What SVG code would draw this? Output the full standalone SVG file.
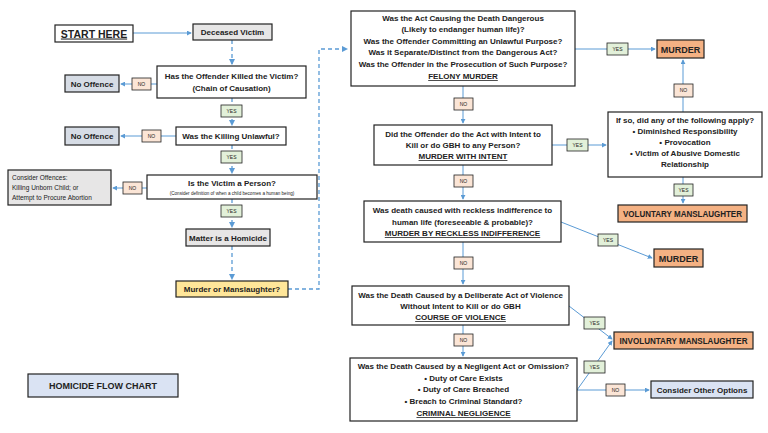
<svg xmlns="http://www.w3.org/2000/svg" width="768" height="433" viewBox="0 0 768 433">
<defs>
<marker id="ar" viewBox="0 0 6 6" refX="5" refY="3" markerWidth="5" markerHeight="5" orient="auto"><path d="M0,0L6,3L0,6z" fill="#5b9bd5"/></marker>
<style>
text{font-family:"Liberation Sans",Arial,sans-serif;font-weight:bold;fill:#222;text-anchor:middle;font-size:8px}
.b{fill:#fff;stroke:#222;stroke-width:1.2}
.g{fill:#e7e6e6;stroke:#222;stroke-width:1.2}
.o{fill:#f4b183;stroke:#222;stroke-width:1.2}
.y{fill:#ffe699;stroke:#222;stroke-width:1.2}
.lb{fill:#dae3f3;stroke:#222;stroke-width:1.2}
.nb{fill:#d6dce5;stroke:#222;stroke-width:1.2}
.yes{fill:#e2f0d9;stroke:#222;stroke-width:0.8}
.no{fill:#fbe5d6;stroke:#222;stroke-width:0.8}
.t{font-size:5px;font-weight:normal}
.s{font-size:4.6px;font-weight:normal}
.l{font-size:6.5px;font-weight:normal;text-anchor:start}
.big{font-size:9px}
.c{stroke:#5b9bd5;stroke-width:1;fill:none}
.d{stroke:#5b9bd5;stroke-width:1.3;fill:none;stroke-dasharray:4,3}
.u{text-decoration:underline}
</style>
</defs>
<g id="connectors">
<line class="c" x1="133" y1="33" x2="191" y2="33" marker-end="url(#ar)"/>
<line class="d" x1="232" y1="40" x2="232" y2="64" marker-end="url(#ar)"/>
<line class="c" x1="157" y1="84" x2="121" y2="84" marker-end="url(#ar)"/>
<line class="d" x1="232" y1="98" x2="232" y2="125" marker-end="url(#ar)"/>
<line class="c" x1="176" y1="136" x2="121" y2="136" marker-end="url(#ar)"/>
<line class="d" x1="232" y1="145" x2="232" y2="173" marker-end="url(#ar)"/>
<line class="c" x1="147" y1="188" x2="113" y2="188" marker-end="url(#ar)"/>
<line class="d" x1="232" y1="199" x2="232" y2="227" marker-end="url(#ar)"/>
<line class="d" x1="232" y1="246" x2="232" y2="279" marker-end="url(#ar)"/>
<polyline class="d" points="288,289 319,289 319,49 347,49" marker-end="url(#ar)"/>
<line class="c" x1="575" y1="49" x2="655" y2="49" marker-end="url(#ar)"/>
<line class="c" x1="463" y1="86" x2="463" y2="123" marker-end="url(#ar)"/>
<line class="c" x1="552" y1="145" x2="606" y2="145" marker-end="url(#ar)"/>
<line class="c" x1="683" y1="112" x2="683" y2="60" marker-end="url(#ar)"/>
<line class="c" x1="683" y1="177" x2="683" y2="203" marker-end="url(#ar)"/>
<line class="c" x1="463" y1="165" x2="463" y2="199" marker-end="url(#ar)"/>
<line class="c" x1="561" y1="222" x2="652" y2="258" marker-end="url(#ar)"/>
<line class="c" x1="463" y1="242" x2="463" y2="284" marker-end="url(#ar)"/>
<line class="c" x1="569" y1="306" x2="612" y2="339" marker-end="url(#ar)"/>
<line class="c" x1="463" y1="325" x2="463" y2="356" marker-end="url(#ar)"/>
<line class="c" x1="577" y1="390" x2="612" y2="341" marker-end="url(#ar)"/>
<line class="c" x1="577" y1="390" x2="649" y2="390" marker-end="url(#ar)"/>
</g>
<g id="tags">
<rect class="no" x="132" y="78" width="19" height="12"/><text class="t" x="141.5" y="86">NO</text>
<rect class="yes" x="221" y="105" width="21" height="12"/><text class="t" x="231.5" y="113">YES</text>
<rect class="no" x="142" y="130" width="19" height="12"/><text class="t" x="151.5" y="138">NO</text>
<rect class="yes" x="221" y="151" width="21" height="12"/><text class="t" x="231.5" y="159">YES</text>
<rect class="no" x="123" y="182" width="19" height="12"/><text class="t" x="132.5" y="190">NO</text>
<rect class="yes" x="221" y="205" width="21" height="12"/><text class="t" x="231.5" y="213">YES</text>
<rect class="yes" x="607" y="43" width="21" height="12"/><text class="t" x="617.5" y="51">YES</text>
<rect class="no" x="454" y="98" width="19" height="12"/><text class="t" x="463.5" y="106">NO</text>
<rect class="yes" x="567" y="139" width="21" height="12"/><text class="t" x="577.5" y="147">YES</text>
<rect class="no" x="674" y="84" width="19" height="13"/><text class="t" x="683.5" y="92">NO</text>
<rect class="yes" x="674" y="184" width="19" height="12"/><text class="t" x="683.5" y="192">YES</text>
<rect class="no" x="454" y="175" width="19" height="12"/><text class="t" x="463.5" y="183">NO</text>
<rect class="yes" x="598" y="234" width="20" height="12"/><text class="t" x="608" y="242">YES</text>
<rect class="no" x="454" y="257" width="19" height="12"/><text class="t" x="463.5" y="265">NO</text>
<rect class="yes" x="584" y="317" width="21" height="12"/><text class="t" x="594.5" y="325">YES</text>
<rect class="no" x="454" y="334" width="19" height="12"/><text class="t" x="463.5" y="342">NO</text>
<rect class="yes" x="584" y="361" width="21" height="12"/><text class="t" x="594.5" y="369">YES</text>
<rect class="no" x="606" y="384" width="19" height="12"/><text class="t" x="615.5" y="392">NO</text>
</g>
<g id="start"><rect class="b" x="55" y="25" width="78" height="17" stroke-width="1.5"/><text class="u" x="94" y="37.5" style="font-size:10.5px">START HERE</text></g>
<g id="deceased"><rect class="g" x="193" y="24" width="79" height="16"/><text x="232.5" y="35">Deceased Victim</text></g>
<g id="q1"><rect class="b" x="157" y="66" width="149" height="32"/><text x="231.5" y="79">Has the Offender Killed the Victim?</text><text x="231.5" y="91">(Chain of Causation)</text></g>
<g id="noff1"><rect class="nb" x="65" y="75" width="54" height="17"/><text x="92" y="86.5">No Offence</text></g>
<g id="q2"><rect class="b" x="176" y="127" width="110" height="18"/><text x="231" y="139">Was the Killing Unlawful?</text></g>
<g id="noff2"><rect class="nb" x="65" y="127" width="54" height="18"/><text x="92" y="139">No Offence</text></g>
<g id="q3"><rect class="b" x="147" y="175" width="170" height="24"/><text x="232" y="186">Is the Victim a Person?</text><text class="s" x="232" y="195">(Consider definition of when a child becomes a human being)</text></g>
<g id="consider"><rect class="g" x="8" y="170" width="103" height="35"/><text class="l" x="12" y="180">Consider Offences:</text><text class="l" x="12" y="190">Killing Unborn Child; or</text><text class="l" x="12" y="200">Attempt to Procure Abortion</text></g>
<g id="homicide"><rect class="g" x="186" y="229" width="84" height="17"/><text x="228" y="240.5">Matter is a Homicide</text></g>
<g id="mom"><rect class="y" x="176" y="281" width="112" height="16"/><text x="232" y="292">Murder or Manslaughter?</text></g>
<g id="felony"><rect class="b" x="351" y="11" width="224" height="75"/>
<text x="463" y="21">Was the Act Causing the Death Dangerous</text>
<text x="463" y="32">(Likely to endanger human life)?</text>
<text x="463" y="44">Was the Offender Committing an Unlawful Purpose?</text>
<text x="463" y="55">Was it Separate/Distinct from the Dangerous Act?</text>
<text x="463" y="67">Was the Offender in the Prosecution of Such Purpose?</text>
<text class="u" x="463" y="79">FELONY MURDER</text></g>
<g id="murder1"><rect class="o" x="657" y="40" width="47" height="18"/><text class="big" x="680.5" y="52.5">MURDER</text></g>
<g id="intent"><rect class="b" x="374" y="125" width="178" height="40"/>
<text x="463" y="137">Did the Offender do the Act with Intent to</text>
<text x="463" y="148">Kill or do GBH to any Person?</text>
<text class="u" x="463" y="159">MURDER WITH INTENT</text></g>
<g id="ifso"><rect class="b" x="608" y="112" width="154" height="65"/>
<text x="685" y="123">If so, did any of the following apply?</text>
<text x="685" y="134">•  Diminished Responsibility</text>
<text x="685" y="145">•  Provocation</text>
<text x="685" y="156">•  Victim of Abusive Domestic</text>
<text x="685" y="167">Relationship</text></g>
<g id="voluntary"><rect class="o" x="618" y="205" width="129" height="17"/><text class="big" x="682.5" y="217" textLength="119" lengthAdjust="spacingAndGlyphs">VOLUNTARY MANSLAUGHTER</text></g>
<g id="reckless"><rect class="b" x="364" y="201" width="197" height="41"/>
<text x="462.5" y="213">Was death caused with reckless indifference to</text>
<text x="462.5" y="225">human life (foreseeable &amp; probable)?</text>
<text class="u" x="462.5" y="236">MURDER BY RECKLESS INDIFFERENCE</text></g>
<g id="murder2"><rect class="o" x="654" y="249" width="49" height="18"/><text class="big" x="678.5" y="261.5">MURDER</text></g>
<g id="violence"><rect class="b" x="352" y="286" width="217" height="39"/>
<text x="460.5" y="298">Was the Death Caused by a Deliberate Act of Violence</text>
<text x="460.5" y="309">Without Intent to Kill or do GBH</text>
<text class="u" x="460.5" y="320">COURSE OF VIOLENCE</text></g>
<g id="involuntary"><rect class="o" x="614" y="332" width="139" height="17"/><text class="big" x="683.5" y="344" textLength="128" lengthAdjust="spacingAndGlyphs">INVOLUNTARY MANSLAUGHTER</text></g>
<g id="negligent"><rect class="b" x="350" y="358" width="227" height="63"/>
<text x="463.5" y="369">Was the Death Caused by a Negligent Act or Omission?</text>
<text x="463.5" y="381">•  Duty of Care Exists</text>
<text x="463.5" y="392">•  Duty of Care Breached</text>
<text x="463.5" y="404">•  Breach to Criminal Standard?</text>
<text class="u" x="463.5" y="416">CRIMINAL NEGLIGENCE</text></g>
<g id="other"><rect class="lb" x="651" y="381" width="102" height="17"/><text x="702" y="392.5">Consider Other Options</text></g>
<g id="title"><rect class="lb" x="28" y="374" width="150" height="23"/><text class="big" x="103" y="389">HOMICIDE FLOW CHART</text></g>
</svg>
